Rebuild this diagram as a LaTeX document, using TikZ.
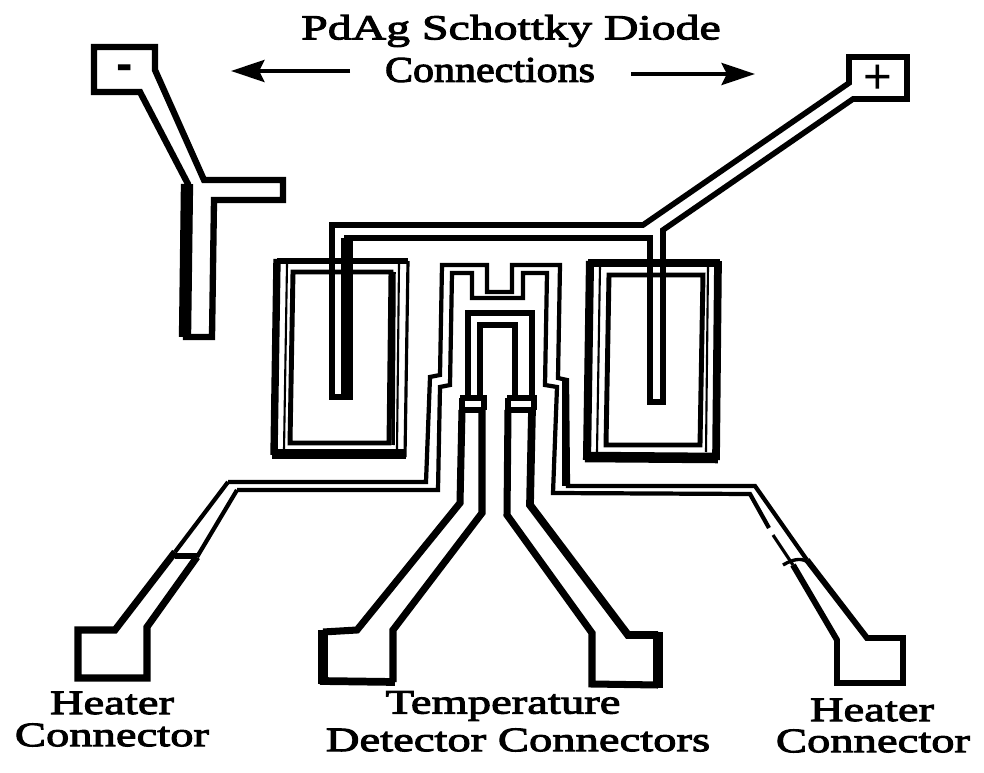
\documentclass[tikz,border=0pt]{standalone}
\usepackage{fontspec}
\usetikzlibrary{arrows.meta}
\newfontfamily\LabelFont[FakeStretch=1.36,FakeBold=3]{Liberation Serif}
\newfontfamily\TitleFont[FakeStretch=1.16,FakeBold=3]{Liberation Serif}
\newfontfamily\SignFont{Liberation Sans}
\tikzset{
  Trace/.style={line width=3.6pt,line join=miter},
  ThinTrace/.style={line width=2.4pt,line join=miter},
  HairTrace/.style={line width=1.2pt},
  Ring/.style={line width=4.2pt},
  InnerRing/.style={line width=2.8pt},
  Lbl/.style={inner sep=0pt,font=\LabelFont\fontsize{19.5pt}{21pt}\selectfont},
  Sign/.style={inner sep=0pt,font=\SignFont\fontsize{28pt}{30pt}\selectfont},
  Pointer/.style={line width=2.2pt,-{Stealth[length=19pt,width=12.5pt,inset=3pt]}}
}

\begin{document}
\begin{tikzpicture}[x=.02cm,y=-.02cm]
\useasboundingbox (0,0) rectangle (984,773);

% Minus connection and its T branch.
\draw[Trace] (94,47) -- (155,47) -- (155,70) -- (204,180) -- (283,180) -- (283,200)
  -- (214,200) -- (212,337) -- (186,337) -- (188,184) -- (140,92) -- (94,92) -- cycle;
\draw[line width=7pt] (187,184) -- (185,337);
\node[Sign,font=\SignFont\bfseries\fontsize{28pt}{30pt}\selectfont] (Minus) at (125,73) {-};

% Plus connection and its long fingers.
\draw[line width=3.2pt,line join=miter] (849,83) -- (849,57) -- (907,57) -- (907,99) -- (853,99) -- (663,230) -- (663,402)
  -- (650,402) -- (650,238) -- (347,238) -- (347,397) -- (332,397) -- (332,225) -- (643,225) -- cycle;
\draw[line width=6.4pt] (347,238) -- (347,400);
\node[Sign] (Plus) at (878,79) {+};

% Left detector ring.
\draw[line width=3.4pt] (277,261) -- (408,261);
\draw[Ring] (277,259) -- (274,455);
\draw[line width=1.8pt] (408,261) -- (405,457);
\draw[line width=5.6pt] (272,454) -- (406,454);
\draw[HairTrace] (287,264) -- (284,450);
\draw[HairTrace] (399,264) -- (397,450);
\draw[InnerRing] (293,272) -- (391,272) -- (389,443) -- (290,443) -- cycle;
\draw[line width=2pt] (394,272) -- (393,445);

% Right detector ring.
\draw[Ring] (588,263) -- (720,263);
\draw[line width=4.6pt] (590,261) -- (587,460);
\draw[line width=4.4pt] (718,261) -- (716,460);
\draw[line width=6pt] (585,457) -- (718,458);
\draw[HairTrace] (600,266) -- (597,452);
\draw[HairTrace] (708,266) -- (706,452);
\draw[InnerRing] (609,275) -- (703,275) -- (700,445) -- (606,445) -- cycle;

% Left half of the heater line.
\draw[ThinTrace] (228,482) -- (426,482) -- (430,377) -- (440,375) -- (442,265)
  -- (487,265) -- (487,292) -- (512,292) -- (512,265) -- (560,265) -- (558,378) -- (567,380)
  -- (568,486) -- (755,486) -- (807,560);
\draw[ThinTrace] (237,490) -- (438,490) -- (440,387) -- (450,385) -- (452,273)
  -- (472,273) -- (472,298) -- (523,298) -- (523,273) -- (547,273) -- (545,385) -- (557,387)
  -- (553,493) -- (750,494) -- (769,528);
\draw[line width=1.8pt] (773,535) -- (793,565);
\draw[line width=3.6pt] (565,380) -- (565,486);

% Left heater pad.
\draw[ThinTrace] (228,482) -- (175,552);
\draw[ThinTrace] (237,490) -- (197,557);
\draw[line width=4pt,line join=miter] (175,552) -- (115,630) -- (78,630) -- (78,678) -- (147,678) -- (147,627) -- (197,557);
\draw[line width=3pt] (175,556) -- (197,556);

% Right heater pad.
\draw[line width=1.9pt] (783,565) .. controls (795,558) and (802,558) .. (810,563);
\draw[line width=3.4pt,line join=miter] (807,560) -- (867,638) -- (903,638) -- (903,683) -- (837,683) -- (837,640) -- (793,565);

% Detector lines in the middle.
\draw[Trace] (468,398) -- (468,313) -- (532,313) -- (532,398);
\draw[Trace] (480,398) -- (480,325) -- (515,325) -- (515,398);
\draw[Trace] (460,398) -- (487,398);
\draw[Trace] (507,398) -- (537,398);
\draw[Trace] (460,410) -- (484,410);
\draw[Trace] (506,410) -- (535,410);
\draw[Trace] (462,398) -- (462,410);
\draw[Trace] (484,398) -- (484,410);
\draw[Trace] (508,398) -- (508,410);
\draw[Trace] (534,398) -- (534,410);

% Left temperature pad.
\draw[line width=4pt,line join=miter] (462,410) -- (460,503) -- (357,630) -- (323,632);
\draw[line width=4pt,line join=miter] (482,410) -- (482,513) -- (393,630) -- (393,682);
\draw[line width=6pt] (323,630) -- (323,684);
\draw[line width=4.4pt] (320,681) -- (395,682);

% Right temperature pad.
\draw[line width=4pt,line join=miter] (508,410) -- (507,515) -- (592,633) -- (592,684) -- (658,685);
\draw[line width=4.4pt,line join=miter] (532,410) -- (530,505) -- (628,635) -- (658,635);
\draw[line width=6pt] (658,632) -- (658,688);

% Labels.
\node[Lbl,font=\LabelFont\fontsize{20pt}{22pt}\selectfont] (TitleA) at (511,31) {PdAg Schottky Diode};
\node[Lbl,font=\TitleFont\fontsize{20.6pt}{22pt}\selectfont] (TitleB) at (490,70) {Connections};
\node[Lbl] (HeaterL) at (112,703) {Heater};
\node[Lbl] (ConnL) at (112,735) {Connector};
\node[Lbl] (TempA) at (503,706) {Temperature};
\node[Lbl] (TempB) at (518,740) {Detector Connectors};
\node[Lbl] (HeaterR) at (872,710) {Heater};
\node[Lbl] (ConnR) at (873,741) {Connector};

% Arrows off the title.
\coordinate (ArrowL) at (231,71);
\coordinate (ArrowR) at (755,74);
\coordinate (StartL) at (350,71);
\coordinate (StartR) at (631,74);
\draw[Pointer] (StartL) -- (ArrowL);
\draw[Pointer] (StartR) -- (ArrowR);

\end{tikzpicture}
\end{document}
